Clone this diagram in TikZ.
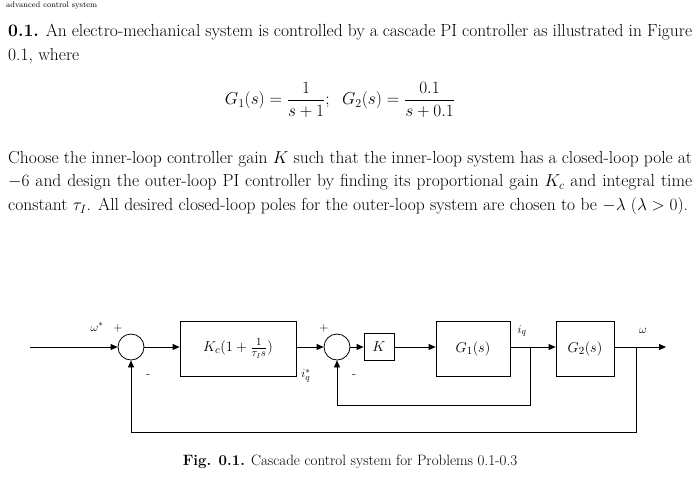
\documentclass[tikz,border=0pt]{standalone}
\usepackage{amsmath}
\usetikzlibrary{arrows.meta}
\tikzset{
 blk/.style={draw,line width=0.8pt,minimum height=55pt,inner sep=2pt},
 sm/.style={draw,circle,line width=0.8pt,minimum size=26pt,inner sep=0pt},
 sig/.style={line width=0.8pt,-{Triangle[length=7pt,width=6pt]}},
 ln/.style={line width=0.8pt},
 body/.style={anchor=north west,text width=684pt,align=justify,inner sep=0pt,font=\fontsize{17.5}{23.5}\selectfont}
}
\begin{document}
\begin{tikzpicture}[x=1pt,y=-1pt]
\useasboundingbox (0,0) rectangle (700,483);
\node[anchor=north west,inner sep=0pt,font=\fontsize{8}{9}\selectfont] (hd) at (6,2) {advanced control system};
\node[body] (p1) at (8,24) {\textbf{0.1.} An electro-mechanical system is controlled by a cascade PI controller as illustrated in Figure 0.1, where};
\node[inner sep=0pt,font=\fontsize{17.5}{23.5}\selectfont] (eq) at (340,100) {$\displaystyle G_1(s)=\frac{1}{s+1};\;\; G_2(s)=\frac{0.1}{s+0.1}$};
\node[body] (p2) at (8,151) {Choose the inner-loop controller gain $K$ such that the inner-loop system has a closed-loop pole at $-6$ and design the outer-loop PI controller by finding its proportional gain $K_c$ and integral time constant $\tau_I$. All desired closed-loop poles for the outer-loop system are chosen to be $-\lambda$ $(\lambda>0)$.};
% diagram
\coordinate (in) at (30,347);
\node[sm] (s1) at (131,347) {};
\node[blk,minimum width=116pt,font=\fontsize{15}{18}\selectfont] (kc) at (238,348.5) {$K_c(1+\frac{1}{\tau_I s})$};
\node[sm] (s2) at (337,347) {};
\node[draw,line width=0.8pt,minimum width=30pt,minimum height=27pt,inner sep=0pt,font=\fontsize{15}{18}\selectfont] (k) at (379,347) {$K$};
\node[blk,minimum width=74pt,font=\fontsize{15}{18}\selectfont] (g1) at (473,348.5) {$G_1(s)$};
\node[blk,minimum width=58pt,font=\fontsize{15}{18}\selectfont] (g2) at (585,348.5) {$G_2(s)$};
\coordinate (b1) at (530,347);
\coordinate (b2) at (636,347);
\coordinate (out) at (666,347);
\coordinate (f1) at (530,405);
\coordinate (f2) at (636,432);
\draw[sig] (in) -- (s1);
\draw[sig] (s1) -- (kc.west|-s1);
\draw[sig] (kc.east|-s2) -- (s2);
\draw[sig] (s2) -- (k);
\draw[sig] (k) -- (g1.west|-k);
\draw[sig] (g1.east|-k) -- (g2.west|-k);
\draw[sig] (g2.east|-k) -- (out);
\draw[sig] (b1) -- (f1) -| (s2.south);
\draw[sig] (b2) -- (f2) -| (s1.south);
\node[font=\fontsize{13}{15}\selectfont] (lw) at (97,327) {$\omega^*$};
\node[font=\fontsize{13}{15}\selectfont] (p1s) at (118,328) {$+$};
\node[font=\fontsize{12}{14}\selectfont] (m1) at (148,376) {-};
\node[font=\fontsize{13}{15}\selectfont] (liq) at (306,376) {$i_q^*$};
\node[font=\fontsize{13}{15}\selectfont] (p2s) at (324,328) {$+$};
\node[font=\fontsize{12}{14}\selectfont] (m2) at (354,376) {-};
\node[font=\fontsize{13}{15}\selectfont] (lq) at (522,331) {$i_q$};
\node[font=\fontsize{13}{15}\selectfont] (lo) at (643,331) {$\omega$};
\node[font=\fontsize{15}{18}\selectfont] (cap) at (350,462) {\textbf{Fig. 0.1.} Cascade control system for Problems 0.1-0.3};
\end{tikzpicture}
\end{document}
